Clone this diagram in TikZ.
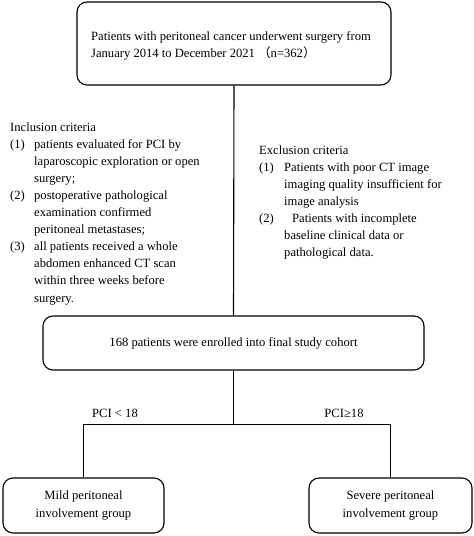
\documentclass[tikz,border=0pt]{standalone}
\usepackage{fontspec}
\setmainfont{Liberation Serif}
\newfontfamily\cjk{Noto Sans CJK SC}
\begin{document}
\begin{tikzpicture}[x=1pt,y=-1pt,
  box/.style={draw, line width=1.1pt, rounded corners=10pt, inner sep=0pt},
  txt/.style={font=\fontsize{12.6}{17.1}\selectfont},
  conn/.style={line width=1.1pt}]
\useasboundingbox (0,0) rectangle (474,536);
\node[box, minimum width=314pt, minimum height=83pt] (top) at (234,43.5) {};
\node[txt, anchor=base west, inner sep=0pt, align=left] (toptext) at (91,57.5)
  {Patients with peritoneal cancer underwent surgery from\\January 2014 to December 2021 {\cjk（}n=362{\cjk）}};
\node[box, txt, minimum width=381pt, minimum height=54pt] (mid) at (233.5,343)
  {168 patients were enrolled into final study cohort};
\node[box, txt, minimum width=161pt, minimum height=55pt, align=center] (mild) at (83.5,505.5)
  {Mild peritoneal\\involvement group};
\node[box, txt, minimum width=163pt, minimum height=55pt, align=center] (severe) at (390.5,505.5)
  {Severe peritoneal\\involvement group};
\node[txt, anchor=base west, inner sep=0pt] (incl) at (10,131)
  {\begin{tabular}[t]{@{}p{24pt}@{}l@{}}
  \multicolumn{2}{@{}l@{}}{Inclusion criteria}\\
  (1) & patients evaluated for PCI by\\
      & laparoscopic exploration or open\\
      & surgery;\\
  (2) & postoperative pathological\\
      & examination confirmed\\
      & peritoneal metastases;\\
  (3) & all patients received a whole\\
      & abdomen enhanced CT scan\\
      & within three weeks before\\
      & surgery.
  \end{tabular}};
\node[txt, anchor=base west, inner sep=0pt] (excl) at (259,154)
  {\begin{tabular}[t]{@{}p{25pt}@{}l@{}}
  \multicolumn{2}{@{}l@{}}{Exclusion criteria}\\
  (1) & Patients with poor CT image\\
      & imaging quality insufficient for\\
      & image analysis\\
  (2) & \hspace{8pt}Patients with incomplete\\
      & baseline clinical data or\\
      & pathological data.
  \end{tabular}};
\draw[conn] (top.south) -- (mid.north);
\draw[conn] (mid.south) -- ++(0,54) coordinate (j);
\draw[conn] (mild.north) |- (j) -| (severe.north);
\node[txt] (lo) at (115,413) {PCI < 18};
\node[txt] (hi) at (344,413) {PCI≥18};
\end{tikzpicture}
\end{document}
